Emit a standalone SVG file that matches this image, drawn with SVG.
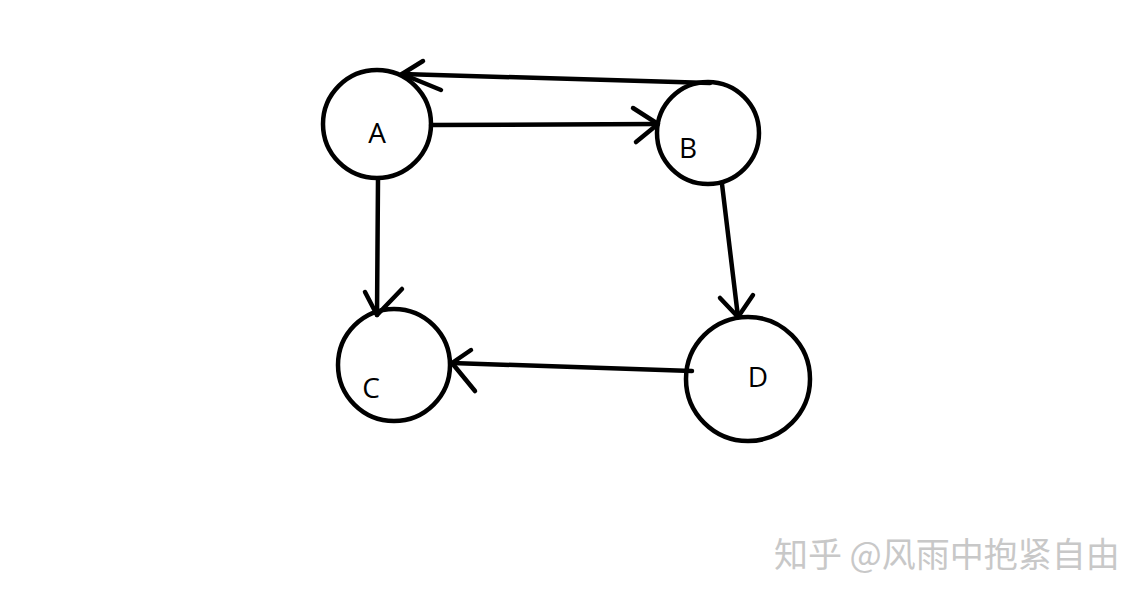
<svg xmlns="http://www.w3.org/2000/svg" width="1147" height="600" viewBox="0 0 1147 600">
<style>
.node{fill:none;stroke:#000;stroke-width:4.5}
.lbl{font-family:"Open Sans","DejaVu Sans",sans-serif;font-size:28px;fill:#000;text-anchor:middle}
.edge{fill:none;stroke:#000;stroke-width:4.5;stroke-linecap:round;stroke-linejoin:round}
.wm{font-family:"Noto Sans CJK SC","Noto Sans",sans-serif;font-size:34px;fill:#c8c8c8}
</style>
<rect width="1147" height="600" fill="#fff"/>
<g id="connectors">
<path class="edge" d="M431,125 L657,124"/>
<path class="edge" d="M633,108 L658,124 L636,142"/>
<path class="edge" d="M710,83 L402,74"/>
<path class="edge" d="M423,61 L402,74 L441,90"/>
<path class="edge" d="M378,179 L377,315"/>
<path class="edge" d="M365,292 L377,315 L402,289"/>
<path class="edge" d="M722,184 L738,317"/>
<path class="edge" d="M720,298 L738,317 L753,295"/>
<path class="edge" d="M692,371 L452,363"/>
<path class="edge" d="M471,350 L452,363 L475,391"/>
</g>
<g id="A"><circle class="node" cx="377" cy="124" r="54"/><text class="lbl" x="377" y="143">A</text></g>
<g id="B"><circle class="node" cx="708" cy="133" r="51"/><text class="lbl" x="688" y="158">B</text></g>
<g id="C"><circle class="node" cx="394" cy="365" r="56"/><text class="lbl" x="371" y="398">C</text></g>
<g id="D"><circle class="node" cx="748" cy="379" r="62"/><text class="lbl" x="758" y="387">D</text></g>
<text class="wm" x="774" y="567">知乎 @风雨中抱紧自由</text>
</svg>
